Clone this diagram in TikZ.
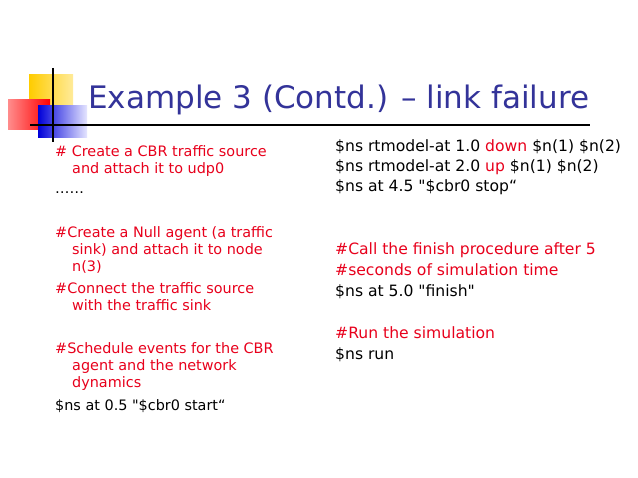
\documentclass[tikz,border=0pt]{standalone}
\usepackage{fontspec}
\setmainfont{DejaVu Sans}
\newfontfamily\rawfont{DejaVu Sans}
\definecolor{ttl}{HTML}{333399}
\definecolor{rd}{HTML}{E8001C}
\definecolor{gold}{HTML}{FFCC00}
\newcommand{\dq}{{\rawfont"}}
\begin{document}
\begin{tikzpicture}[x=1pt,y=-1pt,
 t/.style={anchor=base west,inner sep=0pt,font=\fontsize{14.4}{16}\selectfont},
 r/.style={t,text=rd},
 tt/.style={anchor=base west,inner sep=0pt,font=\fontsize{15.6}{17}\selectfont},
 rr/.style={tt,text=rd}]
\useasboundingbox (0,0) rectangle (638,478);
\fill[white] (0,0) rectangle (638,478);
\shade[left color=gold,right color=gold!40] (29,75) rectangle (73,108);
\shade[left color=red!45,right color=red] (8,100) rectangle (50,130);
\shade[left color=blue!85!black,right color=blue!10] (38,106) rectangle (87,138);
\draw[line width=1.2pt] (53,68) -- (53,142);
\draw[line width=1.2pt] (30,125) -- (590,125);
\node[anchor=base west,inner sep=0pt,text=ttl,font=\fontsize{31}{34}\selectfont] (title) at (88,109) {Example 3 (Contd.) – link failure};
\node[r] (a1) at (55,157) {\# Create a CBR traffic source};
\node[r] (a2) at (72,174) {and attach it to udp0};
\node[t] (a3) at (55,194) {……};
\node[r] (b1) at (55,238) {\#Create a Null agent (a traffic};
\node[r] (b2) at (72,255) {sink) and attach it to node};
\node[r] (b3) at (72,272) {n(3)};
\node[r] (c1) at (55,294) {\#Connect the traffic source};
\node[r] (c2) at (72,311) {with the traffic sink};
\node[r] (d1) at (55,354) {\#Schedule events for the CBR};
\node[r] (d2) at (72,371) {agent and the network};
\node[r] (d3) at (72,388) {dynamics};
\node[t] (d4) at (55,411) {\$ns at 0.5 \dq\$cbr0 start“};
\node[tt] (e1) at (335,152) {\$ns rtmodel-at 1.0 \textcolor{rd}{down} \$n(1) \$n(2)};
\node[tt] (e2) at (335,172) {\$ns rtmodel-at 2.0 \textcolor{rd}{up} \$n(1) \$n(2)};
\node[tt] (e3) at (335,192) {\$ns at 4.5 \dq\$cbr0 stop“};
\node[rr] (f1) at (335,255) {\#Call the finish procedure after 5};
\node[rr] (f2) at (335,276) {\#seconds of simulation time};
\node[tt] (f3) at (335,297) {\$ns at 5.0 \dq finish\dq};
\node[rr] (g1) at (335,339) {\#Run the simulation};
\node[tt] (g2) at (335,360) {\$ns run};
\end{tikzpicture}
\end{document}
